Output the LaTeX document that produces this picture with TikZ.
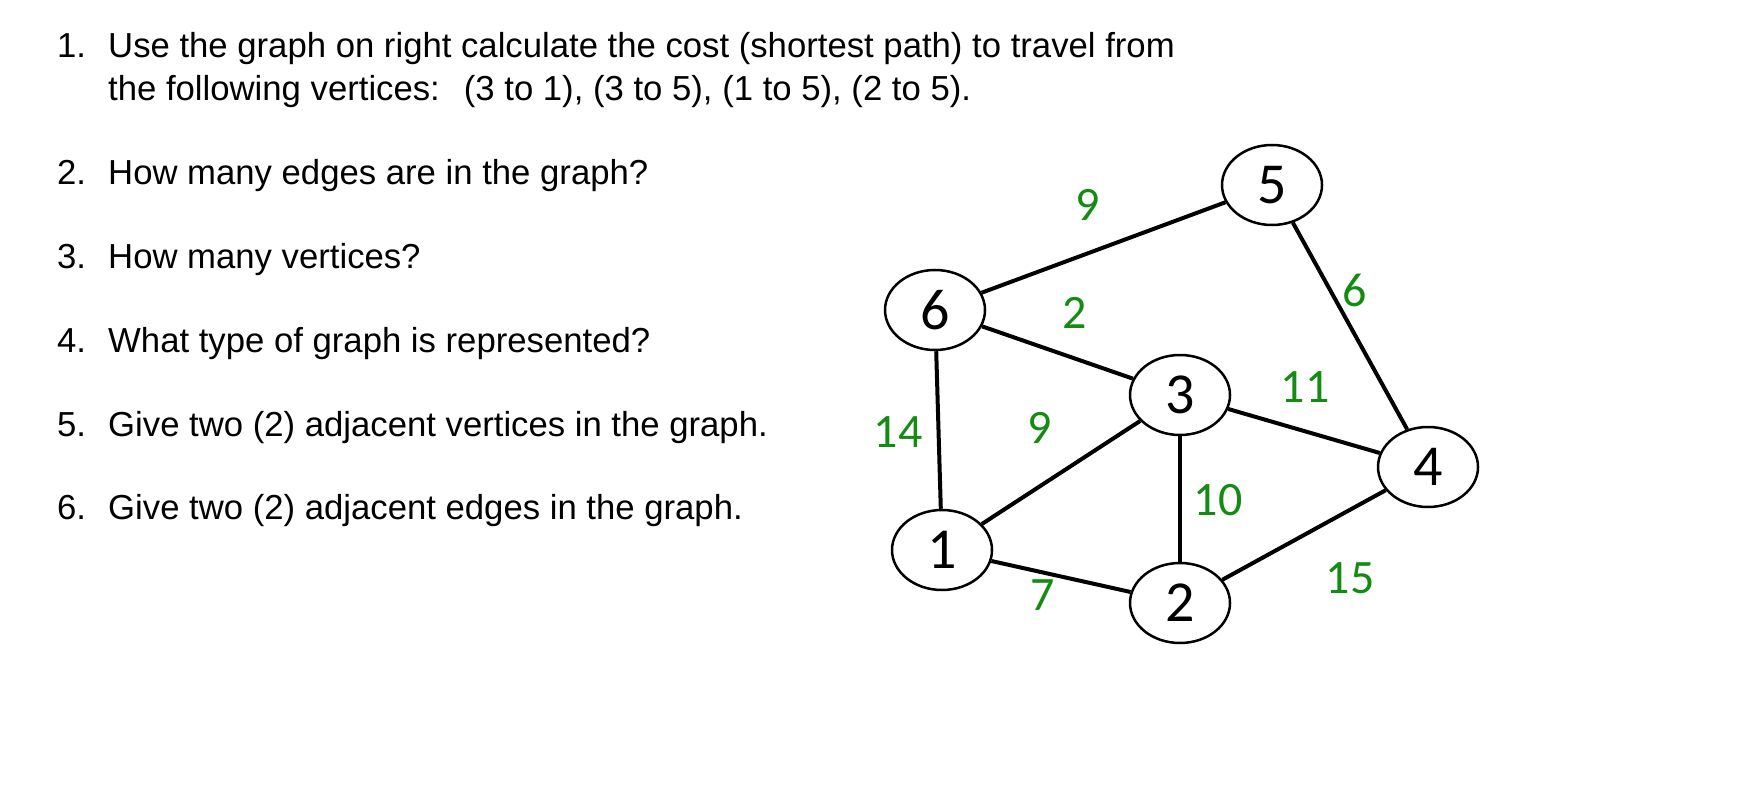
\documentclass[tikz,border=0pt]{standalone}
\usepackage{fontspec}
\setmainfont{Liberation Sans}
\newfontfamily\numfont{Carlito}
\usetikzlibrary{shapes.geometric}
\definecolor{lblgreen}{RGB}{20,140,20}
\begin{document}
\begin{tikzpicture}[x=1pt,y=1pt,
  txt/.style={anchor=base west,inner sep=0,font=\fontsize{34.7}{40}\selectfont},
  vert/.style={ellipse,draw,line width=2.5pt,minimum width=100,minimum height=80,inner sep=0,font=\numfont\fontsize{58}{58}\selectfont},
  edge/.style={line width=4pt},
  wt/.style={text=lblgreen,font=\numfont\fontsize{48}{48}\selectfont,inner sep=0}]
\useasboundingbox (0,0) rectangle (1763,-786);
\fill[white] (0,0) rectangle (1763,-786);
\node[txt] (n1) at (57,-58) {1.};
\node[txt] (t1) at (108,-58) {Use the graph on right calculate the cost (shortest path) to travel from};
\node[txt] (t1b) at (108,-101) {the following vertices:\hspace{24pt}(3 to 1), (3 to 5), (1 to 5), (2 to 5).};
\node[txt] (n2) at (57,-185) {2.};
\node[txt] (t2) at (108,-185) {How many edges are in the graph?};
\node[txt] (n3) at (57,-269) {3.};
\node[txt] (t3) at (108,-269) {How many vertices?};
\node[txt] (n4) at (57,-352) {4.};
\node[txt] (t4) at (108,-352) {What type of graph is represented?};
\node[txt] (n5) at (57,-436) {5.};
\node[txt] (t5) at (108,-436) {Give two (2) adjacent vertices in the graph.};
\node[txt] (n6) at (57,-519) {6.};
\node[txt] (t6) at (108,-519) {Give two (2) adjacent edges in the graph.};

\node[vert] (v5) at (1272,-185) {5};
\node[vert] (v6) at (935,-310) {6};
\node[vert] (v3) at (1180,-395) {3};
\node[vert] (v4) at (1428,-467) {4};
\node[vert] (v1) at (942,-550) {1};
\node[vert] (v2) at (1180,-603) {2};

\draw[edge] (v6) -- (v5);
\draw[edge] (v5) -- (v4);
\draw[edge] (v6) -- (v3);
\draw[edge] (v3) -- (v4);
\draw[edge] (v6) -- (v1);
\draw[edge] (v3) -- (v1);
\draw[edge] (v3) -- (v2);
\draw[edge] (v1) -- (v2);
\draw[edge] (v2) -- (v4);

\node[wt] (w65) at (1088,-205) {9};
\node[wt] (w54) at (1355,-290) {6};
\node[wt] (w63) at (1075,-313) {2};
\node[wt] (w34) at (1305,-387) {11};
\node[wt] (w61) at (898,-432) {14};
\node[wt] (w31) at (1040,-428) {9};
\node[wt] (w32) at (1218,-500) {10};
\node[wt] (w24) at (1350,-578) {15};
\node[wt] (w12) at (1043,-595) {7};
\end{tikzpicture}
\end{document}
